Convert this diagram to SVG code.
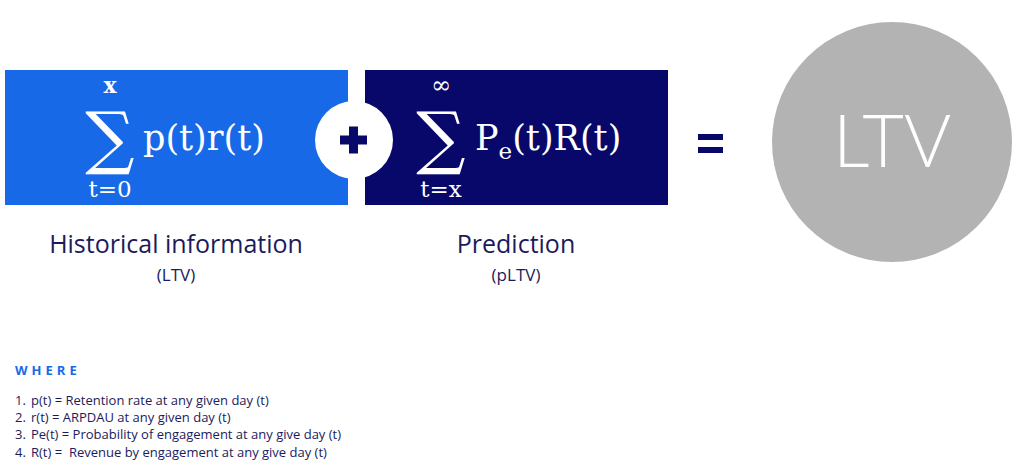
<svg xmlns="http://www.w3.org/2000/svg" width="1024" height="467" viewBox="0 0 1024 467">
<style>
.f{font-family:"DejaVu Serif","Liberation Serif",serif;fill:#fff}
.lab{font-family:"Open Sans","Lato",sans-serif;fill:#1b1b5c;text-anchor:middle}
.li{font-family:"Open Sans","Lato",sans-serif;font-size:13px;fill:#1b1b5c}
</style>
<rect width="1024" height="467" fill="#fff"/>
<g id="historical">
<rect x="5" y="70" width="343" height="135" fill="#1869e8"/>
<text class="f" x="110" y="161" font-size="69" text-anchor="middle">∑</text>
<text class="f" x="110" y="93" font-size="22" font-weight="bold" text-anchor="middle">x</text>
<text class="f" x="110" y="197" font-size="23" text-anchor="middle">t=0</text>
<text class="f" x="143" y="150" font-size="35">p(t)r(t)</text>
<text class="lab" x="176" y="253" font-size="25">Historical information</text>
<text class="lab" x="176" y="281" font-size="17">(LTV)</text>
</g>
<g id="prediction">
<rect x="365" y="70" width="303" height="135" fill="#08086b"/>
<text class="f" x="441" y="161" font-size="69" text-anchor="middle">∑</text>
<text class="f" x="441" y="93" font-size="24" text-anchor="middle">∞</text>
<text class="f" x="441" y="197" font-size="23" text-anchor="middle">t=x</text>
<text class="f" x="475" y="150" font-size="35">P<tspan font-size="23" dy="9">e</tspan><tspan dy="-9">(t)R(t)</tspan></text>
<text class="lab" x="516" y="253" font-size="25">Prediction</text>
<text class="lab" x="516" y="281" font-size="17">(pLTV)</text>
</g>
<g id="plus">
<circle cx="354" cy="140" r="39" fill="#fff"/>
<rect x="340" y="135.5" width="27" height="9" fill="#08086b"/>
<rect x="349" y="126.5" width="9" height="27" fill="#08086b"/>
</g>
<g id="equals">
<rect x="698" y="134" width="25" height="6" fill="#08086b"/>
<rect x="698" y="147" width="25" height="6" fill="#08086b"/>
</g>
<g id="ltv">
<circle cx="892" cy="142" r="120" fill="#b3b3b3"/>
<text x="892" y="167" font-family="Lato,'Open Sans',sans-serif" font-weight="300" font-size="72" fill="#fff" text-anchor="middle">LTV</text>
</g>
<g id="legend">
<text x="15" y="375" font-family="'Open Sans',Lato,sans-serif" font-weight="bold" font-size="13" letter-spacing="4" fill="#1869e8">WHERE</text>
<text class="li" x="15" y="405">1.</text><text class="li" x="31" y="405">p(t) = Retention rate at any given day (t)</text>
<text class="li" x="15" y="422">2.</text><text class="li" x="31" y="422">r(t) = ARPDAU at any given day (t)</text>
<text class="li" x="15" y="439">3.</text><text class="li" x="31" y="439">Pe(t) = Probability of engagement at any give day (t)</text>
<text class="li" x="15" y="457">4.</text><text class="li" x="31" y="457" xml:space="preserve">R(t) =  Revenue by engagement at any give day (t)</text>
</g>
<g id="connectors"></g>
</svg>
